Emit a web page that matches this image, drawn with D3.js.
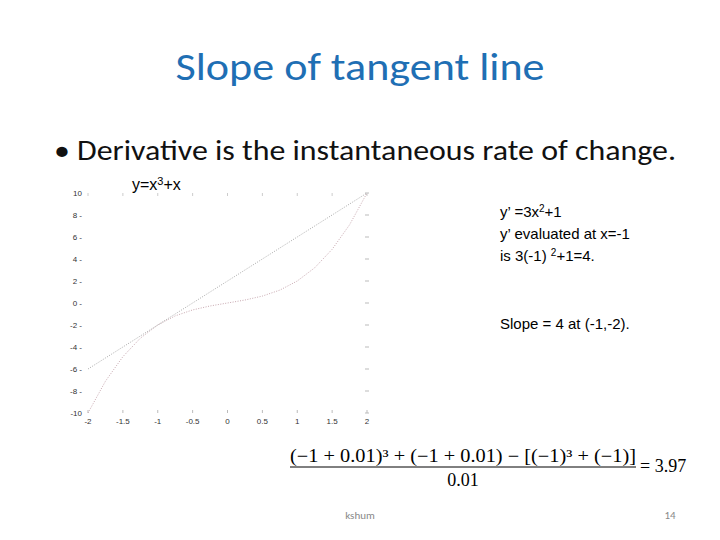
<!DOCTYPE html><html><head><meta charset="utf-8">
<script src="https://d3js.org/d3.v7.min.js"></script>
<style>body{margin:0;background:#fff}</style></head><body>
<svg id="c" width="720" height="540"></svg>
<script>
const xTicks=[-2,-1.5,-1,-0.5,0,0.5,1,1.5,2];
const yTicks=[10,8,6,4,2,0,-2,-4,-6,-8,-10];
const curveX=[-2,-1.75,-1.5,-1.25,-1,-0.75,-0.5,-0.25,0,0.25,0.5,0.75,1,1.25,1.5,1.75,2];
const curveY=[-10,-7.11,-4.88,-3.2,-2,-1.17,-0.63,-0.27,0,0.27,0.63,1.17,2,3.2,4.88,7.11,10];
const tangentX=[-2,2];
const tangentY=[-6,10];
const svg=d3.select("#c");
const x=d3.scaleLinear().domain([-2,2]).range([88,367]);
const y=d3.scaleLinear().domain([-10,10]).range([413,193]);
const F="Calibri, Carlito, 'Open Sans', sans-serif";
svg.append("text").attr("x",360).attr("y",80).attr("text-anchor","middle").attr("font-family",F).attr("font-size",38).attr("fill","#1f6fb4").attr("textLength",369).attr("lengthAdjust","spacingAndGlyphs").text("Slope of tangent line");
svg.append("text").attr("x",54).attr("y",160).attr("font-family",F).attr("font-size",28).attr("fill","#111").attr("textLength",622).attr("lengthAdjust","spacingAndGlyphs").text("• Derivative is the instantaneous rate of change.");
const g=svg.append("g");
yTicks.forEach(v=>{
 g.append("text").attr("x",82).attr("y",y(v)+3).attr("text-anchor","end").attr("font-family","Arial").attr("font-size",8).attr("fill","#333").text(v+(v>-10&&v<10?" -":""));
 g.append("line").attr("x1",x(2)-2).attr("x2",x(2)+2).attr("y1",y(v)).attr("y2",y(v)).attr("stroke","#bbb");
});
xTicks.forEach(v=>{
 g.append("text").attr("x",x(v)).attr("y",424).attr("text-anchor","middle").attr("font-family","Arial").attr("font-size",8).attr("fill","#333").text(v);
 g.append("line").attr("x1",x(v)).attr("x2",x(v)).attr("y1",413).attr("y2",410).attr("stroke","#bbb");
 g.append("line").attr("x1",x(v)).attr("x2",x(v)).attr("y1",193).attr("y2",196).attr("stroke","#ccc");
});
const line=d3.line().x(d=>x(d[0])).y(d=>y(d[1]));
g.append("path").attr("d",line(curveX.map((v,i)=>[v,curveY[i]]))).attr("fill","none").attr("stroke","#c8a8b0").attr("stroke-dasharray","1,1.5");
g.append("path").attr("d",line(tangentX.map((v,i)=>[v,tangentY[i]]))).attr("fill","none").attr("stroke","#aaa").attr("stroke-dasharray","1,1.5");
const t=svg.append("text").attr("x",132).attr("y",190).attr("font-family","Arial").attr("font-size",16).attr("fill","#000");
t.append("tspan").text("y=x");t.append("tspan").attr("dy",-5).attr("font-size",11).text("3");t.append("tspan").attr("dy",5).text("+x");
function sup(xx,yy,parts){const e=svg.append("text").attr("x",xx).attr("y",yy).attr("font-family","Arial").attr("font-size",15);parts.forEach(p=>{const s=e.append("tspan").text(p[0]);if(p[1]==="u")s.attr("dy",-5).attr("font-size",10);if(p[1]==="d")s.attr("dy",5);});}
sup(500,217,[["y’ =3x"],["2","u"],["+1","d"]]);
sup(500,239,[["y’ evaluated at x=-1"]]);
sup(500,261,[["is 3(-1) "],["2","u"],["+1=4.","d"]]);
sup(500,329,[["Slope = 4 at  (-1,-2)."]]);
const M="'Liberation Serif','DejaVu Serif',serif";
svg.append("text").attr("x",290).attr("y",462).attr("font-family",M).attr("font-size",18).text("(−1 + 0.01)³ + (−1 + 0.01) − [(−1)³ + (−1)]").attr("textLength",346).attr("lengthAdjust","spacingAndGlyphs");
svg.append("line").attr("x1",290).attr("x2",636).attr("y1",467).attr("y2",467).attr("stroke","#000").attr("stroke-width",1);
svg.append("text").attr("x",463).attr("y",486).attr("text-anchor","middle").attr("font-family",M).attr("font-size",18).text("0.01");
svg.append("text").attr("x",640).attr("y",472).attr("font-family",M).attr("font-size",18).text("= 3.97");
svg.append("text").attr("x",360).attr("y",519).attr("text-anchor","middle").attr("font-family",F).attr("font-size",11).attr("fill","#888").text("kshum");
svg.append("text").attr("x",670).attr("y",519).attr("text-anchor","middle").attr("font-family",F).attr("font-size",11).attr("fill","#888").text("14");
</script></body></html>
